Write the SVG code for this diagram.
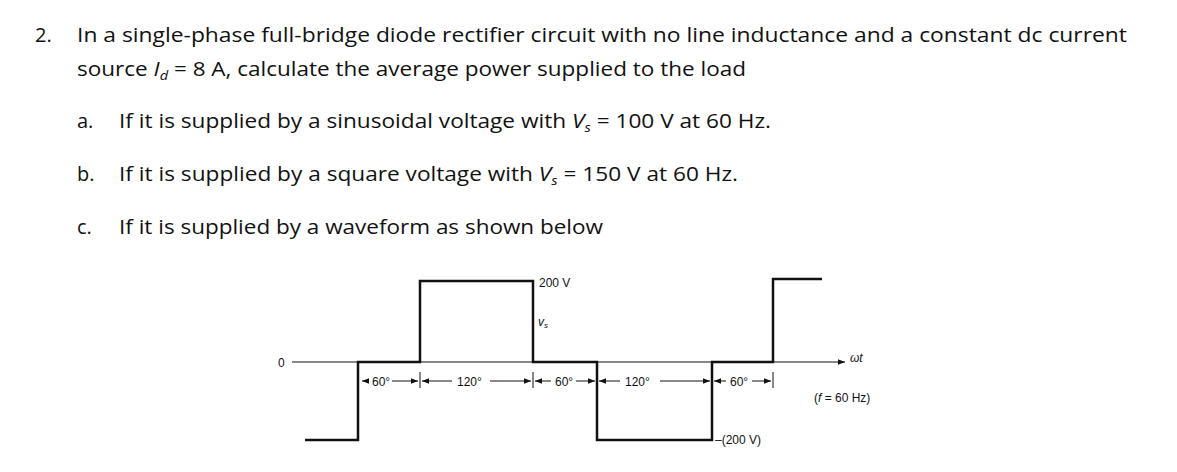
<svg xmlns="http://www.w3.org/2000/svg" width="1177" height="472" viewBox="0 0 1177 472">
<defs>
<style>
.t{font-family:"Open Sans","Liberation Sans",sans-serif;font-size:20px;fill:#111}
.s{font-family:"Liberation Sans",Arial,sans-serif;font-size:12px;fill:#111}
.w{fill:none;stroke:#111;stroke-width:2.5}
.d{fill:none;stroke:#111;stroke-width:1}
</style>
<marker id="a" viewBox="0 0 10 10" refX="10" refY="5" markerWidth="7" markerHeight="7" orient="auto-start-reverse"><path d="M0,1L10,5L0,9z" fill="#111"/></marker>
</defs>
<rect width="1177" height="472" fill="#fff"/>
<g id="text">
<text class="t" x="35" y="42">2.</text>
<text class="t" x="77" y="42" textLength="1050" lengthAdjust="spacingAndGlyphs">In a single-phase full-bridge diode rectifier circuit with no line inductance and a constant dc current</text>
<text class="t" x="77" y="76" textLength="669" lengthAdjust="spacingAndGlyphs">source <tspan font-style="italic">I</tspan><tspan font-style="italic" font-size="13" dy="4">d</tspan><tspan dy="-4"> = 8 A, calculate the average power supplied to the load</tspan></text>
<text class="t" x="77" y="128">a.</text>
<text class="t" x="119" y="128" textLength="652" lengthAdjust="spacingAndGlyphs">If it is supplied by a sinusoidal voltage with <tspan font-style="italic">V</tspan><tspan font-style="italic" font-size="13" dy="4">s</tspan><tspan dy="-4"> = 100 V at 60 Hz.</tspan></text>
<text class="t" x="77" y="181">b.</text>
<text class="t" x="119" y="181" textLength="619" lengthAdjust="spacingAndGlyphs">If it is supplied by a square voltage with <tspan font-style="italic">V</tspan><tspan font-style="italic" font-size="13" dy="4">s</tspan><tspan dy="-4"> = 150 V at 60 Hz.</tspan></text>
<text class="t" x="77" y="234">c.</text>
<text class="t" x="119" y="234" textLength="484" lengthAdjust="spacingAndGlyphs">If it is supplied by a waveform as shown below</text>
</g>
<g id="connectors">
<line class="d" x1="292" y1="362" x2="845" y2="362" stroke-width="1.5" marker-end="url(#a)"/>
<path class="w" d="M305,440H358V362H420V281H533V362H597V440H712V362H773V279H822"/>
<g class="d">
<line x1="358" y1="370" x2="358" y2="390"/><line x1="420" y1="372" x2="420" y2="388"/>
<line x1="533" y1="372" x2="533" y2="388"/><line x1="597" y1="372" x2="597" y2="388"/>
<line x1="712" y1="372" x2="712" y2="388"/><line x1="773" y1="372" x2="773" y2="388"/>
<line x1="362" y1="381" x2="368" y2="381" marker-start="url(#a)"/><line x1="392" y1="381" x2="418" y2="381" marker-end="url(#a)"/>
<line x1="422" y1="381" x2="452" y2="381" marker-start="url(#a)"/><line x1="490" y1="381" x2="531" y2="381" marker-end="url(#a)"/>
<line x1="535" y1="381" x2="551" y2="381" marker-start="url(#a)"/><line x1="576" y1="381" x2="595" y2="381" marker-end="url(#a)"/>
<line x1="599" y1="381" x2="620" y2="381" marker-start="url(#a)"/><line x1="660" y1="381" x2="710" y2="381" marker-end="url(#a)"/>
<line x1="714" y1="381" x2="726" y2="381" marker-start="url(#a)"/><line x1="752" y1="381" x2="771" y2="381" marker-end="url(#a)"/>
</g>
</g>
<g id="labels">
<text class="s" x="278" y="367">0</text>
<text class="s" x="539" y="287">200 V</text>
<text class="s" x="538" y="326" font-style="italic" font-family="Liberation Serif,serif">v<tspan font-size="8" dy="2">s</tspan></text>
<text class="s" x="850" y="362" font-style="italic" font-family="Liberation Serif,serif">ωt</text>
<text class="s" x="814" y="402">(<tspan font-style="italic">f</tspan> = 60 Hz)</text>
<text class="s" x="715" y="444">–(200 V)</text>
<text class="s" x="372" y="386">60°</text>
<text class="s" x="457" y="386">120°</text>
<text class="s" x="555" y="386">60°</text>
<text class="s" x="625" y="386">120°</text>
<text class="s" x="730" y="386">60°</text>
</g>
</svg>
